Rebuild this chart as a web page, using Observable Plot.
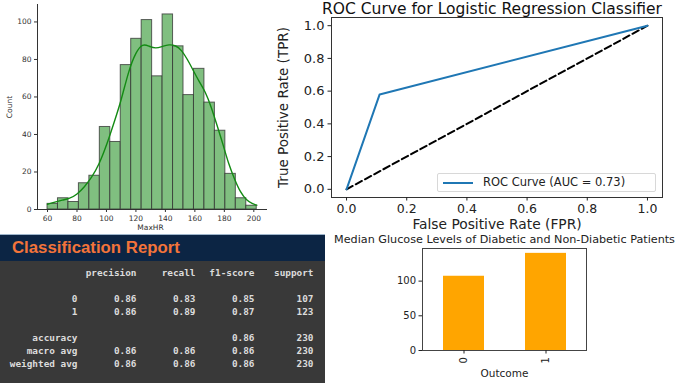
<!DOCTYPE html>
<html>
<head>
<meta charset="utf-8">
<script src="https://cdn.jsdelivr.net/npm/d3@7"></script>
<script src="https://cdn.jsdelivr.net/npm/@observablehq/plot@0.6"></script>
<style>
  html, body { margin: 0; padding: 0; background: #fff; }
  #root { position: relative; width: 680px; height: 383px; overflow: hidden; font-family: "DejaVu Sans", sans-serif; }
  .panel { position: absolute; }
  .panel svg { overflow: visible; }
  #banner { position: absolute; left: 0; top: 234px; width: 325px; height: 27px; background: #0c2544; border-top: 1px solid #9fb6cc; box-sizing: border-box; }
  #banner span { position: absolute; left: 12px; top: 3px; font-family: "Liberation Sans", Arial, sans-serif; font-weight: bold; font-size: 16.8px; color: #f3743a; }
  #report { position: absolute; left: 0; top: 261px; width: 325px; height: 122px; background: #393939; }
  #legend { position: absolute; left: 437px; top: 173px; width: 219px; height: 19px; border: 1px solid #d8d8d8; border-radius: 2px; background: rgba(255,255,255,0.85); box-sizing: border-box; font-size: 11.5px; color: #222; }
  #legend i { position: absolute; left: 5px; top: 8px; width: 30px; height: 0; border-top: 2px solid #1f77b4; }
  #legend span { position: absolute; left: 45px; top: 1px; white-space: nowrap; }
</style>
</head>
<body>
<div id="root">
  <div id="hist" class="panel" style="left:0;top:0"></div>
  <div id="roc" class="panel" style="left:270px;top:0"></div>
  <div id="legend"><i></i><span>ROC Curve (AUC = 0.73)</span></div>
  <div id="banner"><span>Classification Report</span></div>
  <div id="report"></div>
  <div id="bars" class="panel" style="left:330px;top:232px"></div>
</div>
<script>
// ---------- Histogram of MaxHR ----------
const binEdges = [60, 67.1, 74.2, 81.3, 88.4, 95.5, 102.6, 109.7, 116.8, 123.9, 131, 138.1, 145.2, 152.3, 159.4, 166.5, 173.6, 180.7, 187.8, 194.9, 202];
const binCounts = [3, 6, 4, 14, 18, 44, 36, 77, 91, 101, 71, 104, 87, 61, 75, 57, 42, 19, 6, 2];
const kdeX = [60, 65, 70, 75, 80, 85, 90, 95, 100, 105, 110, 115, 120, 124.5, 129, 133.5, 138, 142.5, 147, 151, 155, 159, 163, 167, 171, 175, 179, 183, 187, 191, 195, 199, 202];
const kdeY = [2.8, 4, 5, 5.8, 8, 12, 17, 24, 34, 46, 58, 74, 84, 88.5, 87, 85.8, 87, 88, 87.5, 85, 80, 74, 68, 63, 55, 45, 35, 24, 16, 9, 5, 3, 2.3];
const histYTicks = [0, 20, 40, 60, 80, 100];
const histXTicks = [60, 80, 100, 120, 140, 160, 180, 200];

const bins = binCounts.map((c, i) => ({x1: binEdges[i], x2: binEdges[i + 1], count: c}));
const kde = kdeX.map((x, i) => ({x, y: kdeY[i]}));

const hist = Plot.plot({
  width: 270, height: 232,
  marginLeft: 37, marginRight: 3, marginTop: 4, marginBottom: 23,
  style: {fontFamily: "DejaVu Sans", background: "transparent", color: "#333"},
  x: {domain: [53.2, 209.3]},
  y: {domain: [0, 109.3]},
  marks: [
    Plot.rectY(bins, {x1: "x1", x2: "x2", y: "count", fill: "#80bf80", stroke: "#2f2f2f", strokeOpacity: 0.75, strokeWidth: 1, inset: 0}),
    Plot.line(kde, {x: "x", y: "y", stroke: "#138a13", strokeWidth: 1.4, curve: "basis"}),
    Plot.ruleX([53.2], {stroke: "#333", strokeWidth: 1}),
    Plot.ruleY([0], {stroke: "#333", strokeWidth: 1}),
    Plot.axisY({ticks: histYTicks, tickSize: 3, tickPadding: 3, fontSize: 7.5, label: null}),
    Plot.axisX({ticks: histXTicks, tickSize: 3, tickPadding: 3, fontSize: 7.5, label: null}),
    Plot.text(["Count"], {frameAnchor: "left", dx: -28, rotate: -90, textAnchor: "middle", lineAnchor: "middle", fontSize: 7.5, fill: "#333"}),
    Plot.text(["MaxHR"], {frameAnchor: "bottom", dy: 18, dx: -2, textAnchor: "middle", lineAnchor: "middle", fontSize: 7.5, fill: "#333"})
  ]
});
document.getElementById("hist").append(hist);

// ---------- ROC curve ----------
const rocFPR = [0, 0.11, 1];
const rocTPR = [0, 0.58, 1];
const diagX = [0, 1];
const diagY = [0, 1];
const rocTicks = [0, 0.2, 0.4, 0.6, 0.8, 1.0];
const rocTitle = "ROC Curve for Logistic Regression Classifier";

const roc = rocFPR.map((x, i) => ({x, y: rocTPR[i]}));
const diag = diagX.map((x, i) => ({x, y: diagY[i]}));

const rocPlot = Plot.plot({
  width: 410, height: 232,
  marginLeft: 61, marginRight: 18, marginTop: 17, marginBottom: 35,
  style: {fontFamily: "DejaVu Sans", background: "transparent", color: "#222"},
  x: {domain: [-0.05, 1.05]},
  y: {domain: [-0.05, 1.05]},
  marks: [
    Plot.line(diag, {x: "x", y: "y", stroke: "#000", strokeWidth: 2, strokeDasharray: "7,3.5"}),
    Plot.line(roc, {x: "x", y: "y", stroke: "#1f77b4", strokeWidth: 2}),
    Plot.frame({stroke: "#333", strokeWidth: 1}),
    Plot.axisY({ticks: rocTicks, tickFormat: ".1f", tickSize: 3.5, tickPadding: 3.5, fontSize: 13, label: null}),
    Plot.axisX({ticks: rocTicks, tickFormat: ".1f", tickSize: 3.5, tickPadding: 3, fontSize: 12.5, label: null}),
    Plot.text(["False Positive Rate (FPR)"], {frameAnchor: "bottom", dy: 27, textAnchor: "middle", lineAnchor: "middle", fontSize: 13.8, fill: "#222"}),
    Plot.text(["True Positive Rate (TPR)"], {frameAnchor: "left", dx: -48, rotate: -90, textAnchor: "middle", lineAnchor: "middle", fontSize: 13.5, fill: "#222"}),
    Plot.text([rocTitle], {frameAnchor: "top", dy: -8, dx: -5, textAnchor: "middle", lineAnchor: "middle", fontSize: 15.5, fill: "#111"})
  ]
});
document.getElementById("roc").append(rocPlot);

// ---------- Classification report ----------
const reportColumns = ["label", "precision", "recall", "f1-score", "support"];
const reportLabels = ["", "", "0", "1", "", "accuracy", "macro avg", "weighted avg"];
const reportPrecision = ["precision", "", "0.86", "0.86", "", "", "0.86", "0.86"];
const reportRecall = ["recall", "", "0.83", "0.89", "", "", "0.86", "0.86"];
const reportF1 = ["f1-score", "", "0.85", "0.87", "", "0.86", "0.86", "0.86"];
const reportSupport = ["support", "", "107", "123", "", "230", "230", "230"];

const cells = [];
reportLabels.forEach((_, i) => {
  [reportLabels, reportPrecision, reportRecall, reportF1, reportSupport].forEach((col, j) => {
    if (col[i] !== "") cells.push({row: i, col: reportColumns[j], text: col[i]});
  });
});

const reportPlot = Plot.plot({
  width: 325, height: 122,
  margin: 0,
  style: {fontFamily: "DejaVu Sans Mono", background: "transparent"},
  x: {type: "point", domain: reportColumns, range: [77, 313], padding: 0, axis: null},
  y: {type: "point", domain: d3.range(reportLabels.length), range: [9.5, 102.5], padding: 0, axis: null},
  marks: [
    Plot.text(cells, {x: "col", y: "row", text: "text", textAnchor: "end", fill: "#dcdcdc", fontSize: 9.4, fontWeight: "bold"})
  ]
});
document.getElementById("report").append(reportPlot);

// ---------- Median glucose bar chart ----------
const outcomes = ["0", "1"];
const medianGlucose = [107, 140];
const barYTicks = [0, 50, 100];
const barTitle = "Median Glucose Levels of Diabetic and Non-Diabetic Patients";

const barData = outcomes.map((o, i) => ({outcome: o, value: medianGlucose[i]}));

const barPlot = Plot.plot({
  width: 350, height: 151,
  marginLeft: 92, marginRight: 94, marginTop: 16, marginBottom: 33,
  style: {fontFamily: "DejaVu Sans", background: "transparent", color: "#222"},
  x: {type: "band", domain: outcomes, paddingInner: 0.5, paddingOuter: 0.25},
  y: {domain: [0, 147]},
  marks: [
    Plot.barY(barData, {x: "outcome", y: "value", fill: "#ffa500"}),
    Plot.frame({stroke: "#444", strokeWidth: 1}),
    Plot.axisY({ticks: barYTicks, tickSize: 3.5, tickPadding: 3, fontSize: 10, label: null}),
    Plot.axisX({tickSize: 3.5, tickPadding: 3, tickRotate: -90, fontSize: 10, label: null}),
    Plot.text(["Outcome"], {frameAnchor: "bottom", dy: 23, textAnchor: "middle", lineAnchor: "middle", fontSize: 10.5, fill: "#222"}),
    Plot.text([barTitle], {frameAnchor: "top", dy: -9, textAnchor: "middle", lineAnchor: "middle", fontSize: 11.2, fill: "#222"})
  ]
});
document.getElementById("bars").append(barPlot);
</script>
</body>
</html>
